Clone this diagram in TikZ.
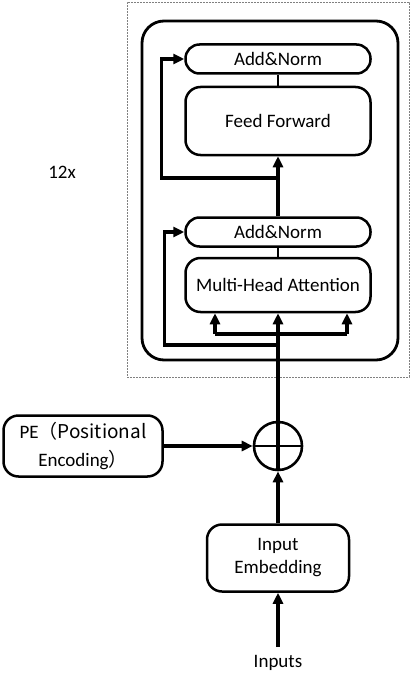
\documentclass[tikz,border=0pt]{standalone}
\usepackage{fontspec}
\setmainfont{Carlito}
\newfontfamily\cjk{Noto Sans CJK SC}
\usetikzlibrary{arrows.meta}

\begin{document}
\begin{tikzpicture}[x=1pt,y=-1pt,font=\fontsize{19}{23}\selectfont]

    \tikzset{
      block/.style={
        draw,
        line width=2.5pt,
        rounded corners=15pt,
        minimum width=185pt,
        inner sep=0pt,
        align=center,
      },
      addnorm/.style={block, minimum height=29pt, rounded corners=14pt},
      flow/.style={line width=3.2pt, -{Triangle[length=11pt,width=10pt]}},
      link/.style={line width=2.5pt},
    }
    \useasboundingbox (0,0) rectangle (414,674);

    \node[draw=gray, dash pattern=on 2pt off 1pt, line width=0.8pt, minimum width=282pt, minimum height=375pt] (stack) at (268,189.5) {};
    \node[draw, line width=2.8pt, rounded corners=22pt, minimum width=256pt, minimum height=339pt] (layer) at (270,190.5) {};
    \node (rep) at (62,172) {12x};

    \node[addnorm] (an1) at (278,59) {Add\&Norm};
    \node[block, minimum height=68pt] (ff) at (278,121) {Feed Forward};
    \node[addnorm] (an2) at (278,232) {Add\&Norm};
    \node[block, minimum height=54pt] (mha) at (278,285) {Multi-Head Attention};

    \node[circle, draw, line width=2.6pt, minimum size=48pt, inner sep=0pt] (plus) at (278,446) {};
    \node[block, minimum width=159pt, minimum height=61pt] (pe) at (83,446) {PE\cjk{（}Positional\\[5pt]Encoding\cjk{）}};
    \node[block, minimum width=142pt, minimum height=67pt] (emb) at (278,558) {Input\\Embedding};
    \node (inputs) at (278,663) {Inputs};

    \coordinate (src) at (278,647);
    \coordinate (res1) at (278,178);
    \coordinate (res2) at (278,345);
    \coordinate (q) at (215,334);
    \coordinate (v) at (347,334);

    % input side
    \draw[flow] (src) -- (emb.south);
    \draw[flow] (emb.north) -- (plus.south);
    \draw[flow] (pe.east) -- (plus.west);
    \draw[link] (plus.west) -- (plus.east);
    \draw[line width=3.2pt] (plus.south) -- (plus.north);

    % encoder layer
    \draw[flow] (plus.north) -- (mha.south);
    \draw[line width=3.2pt] (q) -- (v);
    \draw[flow] (q) -- (q |- mha.south);
    \draw[flow] (v) -- (v |- mha.south);
    \draw[flow] (res2) -| ([xshift=-20pt]an2.west) -- (an2.west);
    \draw[link] (mha.north) -- (an2.south);
    \draw[flow] (an2.north) -- (ff.south);
    \draw[flow] (res1) -| ([xshift=-23pt]an1.west) -- (an1.west);
    \draw[link] (ff.north) -- (an1.south);

\end{tikzpicture}
\end{document}
